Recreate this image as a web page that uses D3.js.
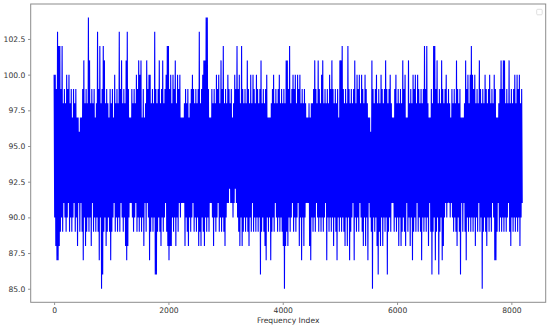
<!DOCTYPE html>
<html>
<head>
<meta charset="utf-8">
<style>
	body { margin: 0; background: #fff; }
	svg { display: block; }
	.tick text { font-family: "DejaVu Sans", sans-serif; font-size: 7.6px; fill: #333; }
	.tick line { stroke: #777; stroke-width: 0.8; }
	.frame { fill: none; stroke: #8c8c8c; stroke-width: 1; }
	.signal { fill: none; stroke: #0000ff; stroke-width: 1.1; stroke-linejoin: miter; }
</style>
</head>
<body>
<svg width="550" height="330"></svg>
<script src="https://d3js.org/d3.v7.min.js"></script>
<script>

var step = 10;
var seg0 = [100,90,100,88,99,87,103,87,102,88,102,89,99,90,102,89,98,91,99,90,
	98,89,100,90,99,91,100,89,98,90,99,89,97,90,99,91,98,89,99,90,
	97,88,97,91,96,89,97,91,97,89,99,87,101,90,98,88,99,89,98,90,
	104,89,101,90,98,88,99,91,98,89,99,90,97,89,98,90,103,89,99,87,
	102,90,98,85,99,86,102,89,101,90,98,88,99,89,98,90,97,89,99,87];
var seg1 = [98,89,99,90,97,91,100,89,98,90,99,89,98,90,103,89,99,91,101,90,
	98,89,99,90,98,88,101,87,103,88,99,90,97,91,97,91,99,90,98,89,
	99,90,98,91,100,89,99,90,101,89,100,90,101,89,97,90,99,88,97,91,
	98,89,101,91,99,90,100,87,100,89,98,90,99,89,98,90,103,86,99,86,
	98,89,99,90,101,89,98,88,99,90,101,89,98,90,99,91,100,89,102,88];
var seg2 = [102,87,99,88,100,88,98,90,100,89,99,90,101,88,98,90,100,89,99,91,
	100,90,97,91,97,91,97,91,98,88,99,90,98,89,99,88,97,90,98,89,
	99,90,100,91,99,89,98,90,99,89,98,90,99,88,103,89,98,88,99,90,
	100,89,101,88,101,90,104,89,104,90,99,89,97,91,97,91,99,90,98,88,
	99,90,98,89,100,90,99,91,100,89,98,90,101,89,99,90,102,89,98,88];
var seg3 = [99,90,98,91,100,91,99,92,98,91,99,91,97,90,98,91,100,92,99,91,
	102,90,99,89,100,88,98,90,102,88,99,89,98,90,99,89,98,90,101,89,
	99,88,98,90,100,89,98,91,100,89,99,90,98,89,100,90,99,89,98,90,
	99,86,101,89,98,90,99,89,98,88,99,87,100,90,97,89,97,90,97,87,
	98,89,99,90,100,89,98,91,99,90,98,89,99,90,100,89,98,90,99,89];
var seg4 = [98,88,99,85,98,88,101,89,101,88,99,90,102,89,98,90,99,91,100,89,
	99,90,100,89,98,90,100,91,99,88,100,90,98,87,99,90,98,88,99,90,
	98,91,97,91,97,91,98,88,97,87,98,90,98,89,99,90,101,89,99,91,
	98,90,101,89,99,90,98,89,100,90,101,89,98,90,99,91,98,87,99,90,
	98,89,100,90,99,89,101,90,99,88,98,90,99,89,98,87,99,90,97,89];
var seg5 = [101,90,101,89,102,90,99,89,98,88,99,90,98,88,102,90,99,87,98,89,
	99,90,98,91,99,87,101,90,98,89,100,90,99,89,100,91,98,90,100,89,
	99,88,98,90,100,88,99,90,98,87,97,91,97,90,96,89,101,85,99,90,
	98,89,99,90,100,88,98,86,99,89,98,88,100,90,99,88,98,90,99,89,
	101,90,99,86,98,89,99,90,100,89,98,91,97,91,97,89,99,90,100,89];
var seg6 = [98,90,99,88,98,90,99,88,98,89,101,90,99,89,100,88,97,91,97,89,
	101,90,98,88,99,90,98,87,100,89,99,90,100,89,98,91,100,89,99,90,
	98,89,99,87,98,90,99,89,102,90,99,89,102,90,98,88,97,91,97,89,
	99,86,98,89,102,90,102,87,99,89,101,90,98,86,99,89,98,90,101,87,
	99,88,98,90,99,91,100,90,98,91,99,91,98,90,97,91,99,90,98,89];
var seg7 = [99,90,98,89,101,88,99,90,98,89,99,86,97,91,97,89,97,91,98,89,
	101,87,99,90,100,89,98,90,100,89,102,90,100,89,99,90,100,88,98,90,
	99,89,98,91,101,89,99,90,98,85,99,89,98,90,100,89,99,88,98,90,
	99,89,100,90,98,89,99,91,98,90,100,87,99,87,97,89,97,91,98,89,
	99,90,101,89,99,90,101,89,101,90,98,89,99,90,98,91,101,89,98,88,
	99,90,98,89,99,90,100,89,98,90,100,89,99,90,100,88,98,90,99,91];

var xTicks = [0, 2000, 4000, 6000, 8000];
var yTicks = [85, 87.5, 90, 92.5, 95, 97.5, 100, 102.5];
var xLabel = "Frequency Index";

var values = [].concat(seg0, seg1, seg2, seg3, seg4, seg5, seg6, seg7);
var nFreq = 8192;

var svg = d3.select("svg"),
margin = {
	top: 4,
	right: 4.3,
	bottom: 27.7,
	left: 30.7
},
width = +svg.attr("width") - margin.left - margin.right,
height = +svg.attr("height") - margin.top - margin.bottom,
g = svg.append("g").attr("transform", "translate(" + margin.left + "," + margin.top + ")");

// matplotlib style 5% margins around the data
var xPad = (nFreq - 1) * 0.05;
var x = d3.scaleLinear()
	.domain([-xPad, nFreq - 1 + xPad])
	.range([0, width]);

var yPad = (104 - 85) * 0.05;
var y = d3.scaleLinear()
	.domain([85 - yPad, 104 + yPad])
	.range([height, 0]);

g.append("g")
	.attr("transform", "translate(0," + height + ")")
	.call(d3.axisBottom(x).tickValues(xTicks).tickFormat(d3.format("d")).tickSize(2.7).tickPadding(2.6))
	.call(function (a) { a.select(".domain").remove(); });

g.append("g")
	.call(d3.axisLeft(y).tickValues(yTicks).tickFormat(d3.format(".1f")).tickSize(2.7).tickPadding(2.7))
	.call(function (a) { a.select(".domain").remove(); });

var line = d3.line()
	.x(function (d, i) { return x(i * step); })
	.y(function (d) { return y(d); });

g.append("path")
	.datum(values)
	.attr("class", "signal")
	.attr("d", line);

// axes frame
g.append("rect")
	.attr("class", "frame")
	.attr("x", 0)
	.attr("y", 0)
	.attr("width", width)
	.attr("height", height);

// x axis label
g.append("text")
	.attr("x", width / 2)
	.attr("y", height + 21)
	.attr("text-anchor", "middle")
	.style("font-family", "DejaVu Sans, sans-serif")
	.style("font-size", "7.6px")
	.style("fill", "#333")
	.text(xLabel);

// empty legend box, top right
g.append("rect")
	.attr("x", width - 9)
	.attr("y", 5.3)
	.attr("width", 5.5)
	.attr("height", 5.5)
	.attr("rx", 1)
	.style("fill", "#fff")
	.style("stroke", "#d5d5d5")
	.style("stroke-width", 0.8);

</script>
</body>
</html>
